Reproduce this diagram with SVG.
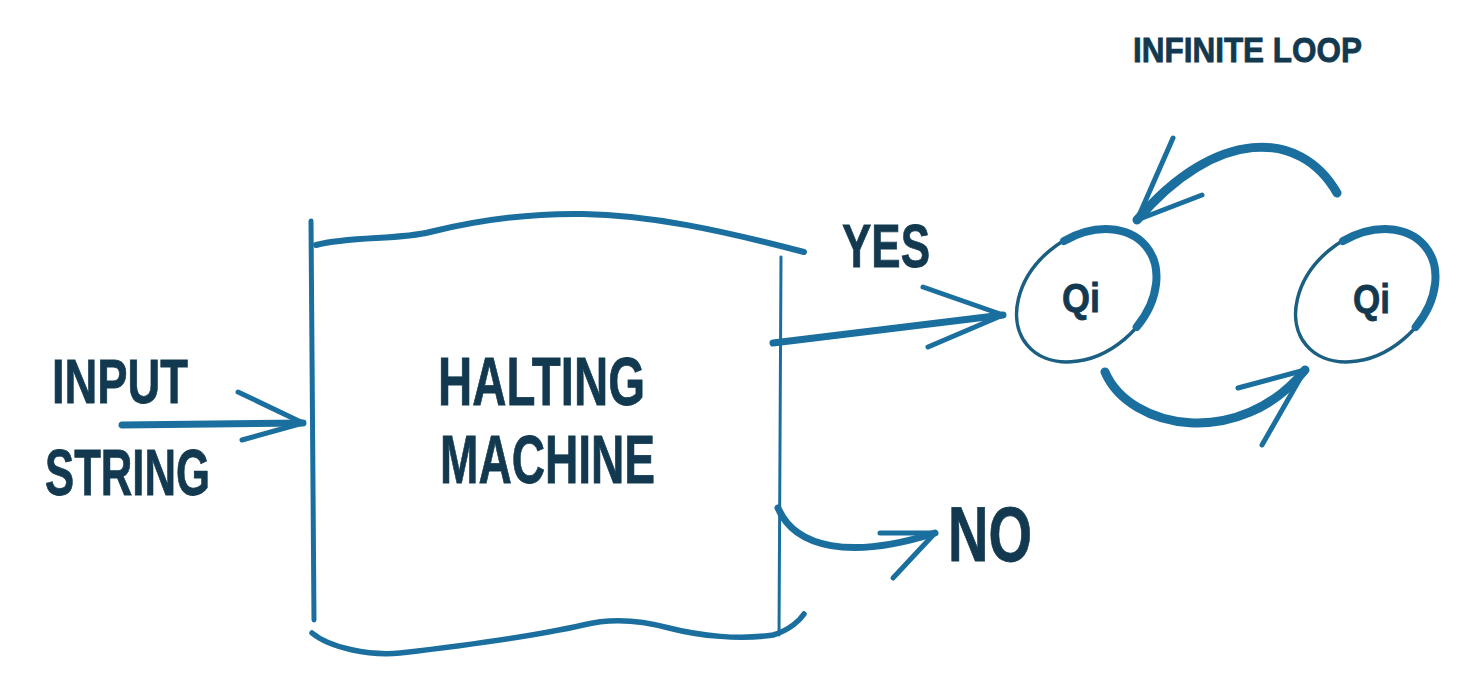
<svg xmlns="http://www.w3.org/2000/svg" width="1462" height="691" viewBox="0 0 1462 691">
  <style>
    .t { font-family: "Liberation Sans", Arial, sans-serif; font-weight: 700; fill: #12394f; stroke: #12394f; stroke-width: 0.8; }
    .ln { fill: none; stroke: #1a6f9f; stroke-linecap: round; stroke-linejoin: round; }
    .thin { fill: none; stroke: #1b5f82; stroke-linecap: round; }
  </style>
  <rect width="1462" height="691" fill="#ffffff"/>

  <g id="label-infinite-loop">
    <text class="t" x="1133" y="62" font-size="35" textLength="229" lengthAdjust="spacingAndGlyphs">INFINITE LOOP</text>
  </g>

  <g id="node-input">
    <text class="t" x="52" y="403" font-size="63" textLength="136" lengthAdjust="spacingAndGlyphs">INPUT</text>
    <text class="t" x="45" y="495" font-size="64" textLength="165" lengthAdjust="spacingAndGlyphs">STRING</text>
  </g>

  <g id="node-halting-machine">
    <path class="ln" stroke-width="5" d="M311,221 L314,620"/>
    <path class="ln" stroke-width="6" d="M316,245 C350,236 400,240 430,232 C470,222 520,213 583,214 C650,215 720,230 804,252"/>
    <path class="ln" stroke-width="3" d="M781,257 L779,635"/>
    <path class="ln" stroke-width="5.5" d="M312,633 C330,648 370,656 400,653 C460,646 540,635 583,625 C610,618 640,620 669,628 C700,636 740,640 773,635 C790,630 800,620 804,614"/>
    <text class="t" x="438" y="405" font-size="68" textLength="207" lengthAdjust="spacingAndGlyphs">HALTING</text>
    <text class="t" x="440" y="483" font-size="69" textLength="215" lengthAdjust="spacingAndGlyphs">MACHINE</text>
  </g>

  <g id="node-yes">
    <text class="t" x="842" y="267" font-size="62" textLength="88" lengthAdjust="spacingAndGlyphs">YES</text>
  </g>

  <g id="node-no">
    <text class="t" x="948" y="561" font-size="77" textLength="84" lengthAdjust="spacingAndGlyphs">NO</text>
  </g>

  <g id="node-q1">
    <ellipse class="thin" stroke-width="3.5" cx="1087" cy="295" rx="78" ry="58" transform="rotate(-40 1087 295)"/>
    <path class="ln" stroke-width="8" d="M1064,241 A78,58 -40 0 1 1136.7,327"/>
    <text class="t" x="1062" y="312" font-size="40" textLength="38" lengthAdjust="spacingAndGlyphs">Qi</text>
  </g>

  <g id="node-q2">
    <ellipse class="thin" stroke-width="3.5" cx="1366" cy="295" rx="78" ry="58" transform="rotate(-40 1366 295)"/>
    <path class="ln" stroke-width="8" d="M1343,241 A78,58 -40 0 1 1415.7,327"/>
    <text class="t" x="1353" y="313" font-size="40" textLength="37" lengthAdjust="spacingAndGlyphs">Qi</text>
  </g>

  <g id="connectors">
    <!-- input -> machine -->
    <path class="ln" stroke-width="7" d="M122,425 L303,423"/>
    <path class="ln" stroke-width="5" d="M238,392 L303,423 L242,440"/>
    <!-- machine -> yes -> Qi -->
    <path class="ln" stroke-width="7" d="M773,343 L1003,315"/>
    <path class="ln" stroke-width="5" d="M923,287 L1003,315 L928,347"/>
    <!-- machine -> no -->
    <path class="ln" stroke-width="7" d="M778,508 C795,548 850,560 935,533"/>
    <path class="ln" stroke-width="5" d="M880,533 L935,533 L893,578"/>
    <!-- Qi (right) -> Qi (left), top -->
    <path class="ln" stroke-width="9" d="M1337,193 C1300,128 1215,128 1137,220"/>
    <path class="ln" stroke-width="5" d="M1173,138 L1137,220 L1202,195"/>
    <!-- Qi (left) -> Qi (right), bottom -->
    <path class="ln" stroke-width="9" d="M1105,372 C1130,430 1240,450 1305,370"/>
    <path class="ln" stroke-width="5" d="M1238,388 L1305,370 L1262,445"/>
  </g>
</svg>
